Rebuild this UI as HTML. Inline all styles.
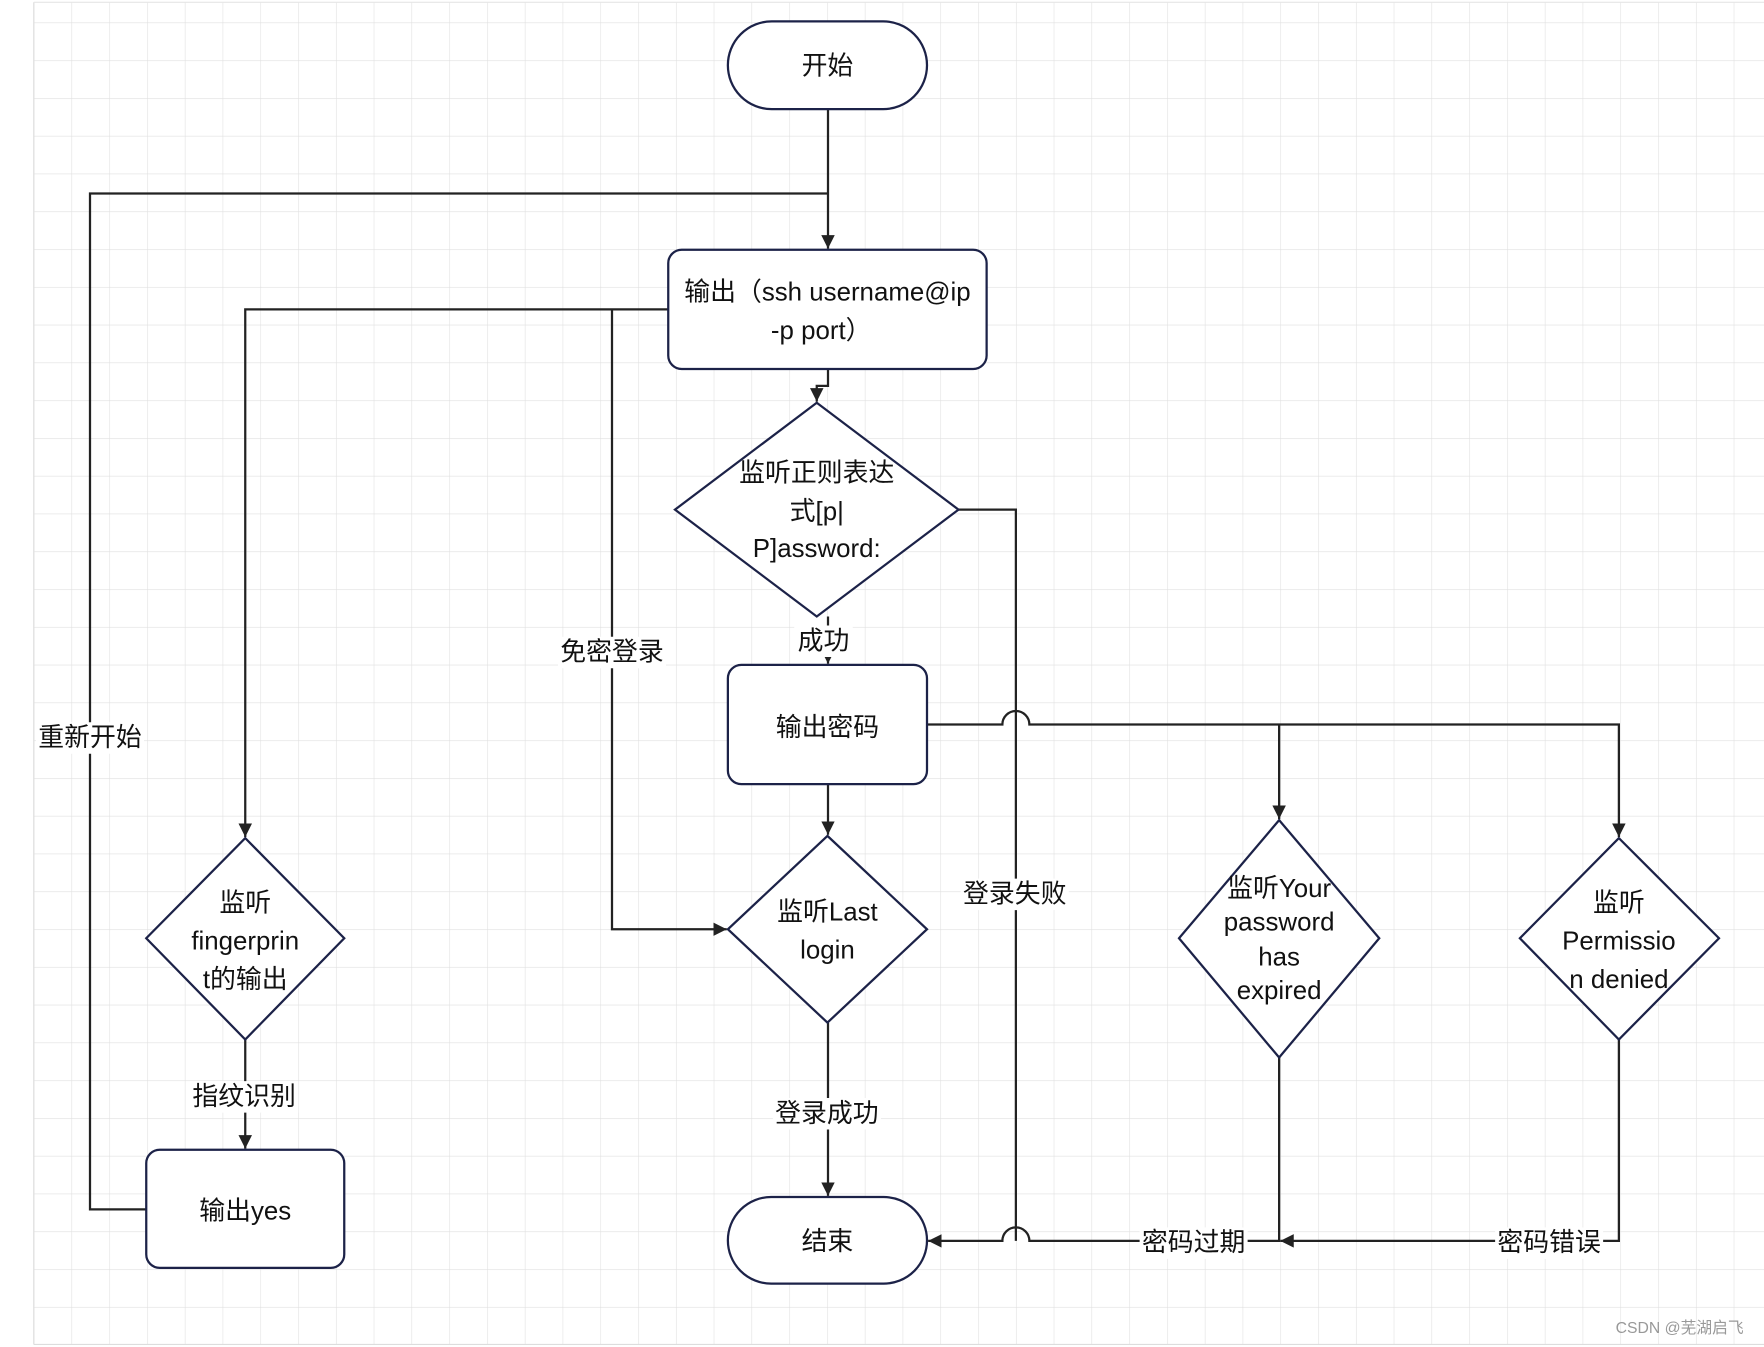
<!DOCTYPE html>
<html><head><meta charset="utf-8"><style>
html,body{margin:0;padding:0;background:#fff;width:1764px;height:1347px;overflow:hidden}
svg{display:block}
text{font-family:"Liberation Sans","Noto Sans CJK SC",sans-serif;font-size:23px;fill:#111;text-anchor:middle;dominant-baseline:central}
.n{fill:#fff;stroke:#1c2248;stroke-width:2}
.c{fill:none;stroke:#222;stroke-width:2}
.lb{fill:#fff}
</style></head><body>
<svg width="1764" height="1347" viewBox="0 0 1568 1197.33" preserveAspectRatio="none">
<defs>
<pattern id="g" x="30" y="20" width="33.58" height="33.58" patternUnits="userSpaceOnUse">
<path d="M0 0H33.58M0 0V33.58" stroke="#e0e0e0" stroke-width="1" fill="none"/>
</pattern>
<marker id="a" markerWidth="13" markerHeight="13" refX="12" refY="6" orient="auto" markerUnits="userSpaceOnUse"><path d="M0,0 L12,6 L0,12 z" fill="#222"/></marker>
</defs>
<rect x="30" y="2" width="1538" height="1193" fill="url(#g)"/>
<line x1="30" y1="2" x2="30" y2="1195" stroke="#ddd"/>
<line x1="30" y1="2" x2="1568" y2="2" stroke="#e6e6e6"/>
<line x1="30" y1="1195" x2="1568" y2="1195" stroke="#ddd"/>

<path class="c" d="M736 97V221" marker-end="url(#a)"/>
<path class="c" d="M130 1075H80V172H736"/>
<path class="c" d="M594 275H218V744" marker-end="url(#a)"/>
<path class="c" d="M544 275V826H646" marker-end="url(#a)"/>
<path class="c" d="M736 328V343H726V357" marker-end="url(#a)"/>
<path class="c" d="M736 548V590" marker-end="url(#a)"/>
<path class="c" d="M852 453H903V1103"/>
<path class="c" d="M824 644H891A12 12 0 0 1 915 644H1439V744" marker-end="url(#a)"/>
<path class="c" d="M1137 644V728" marker-end="url(#a)"/>
<path class="c" d="M736 697V742" marker-end="url(#a)"/>
<path class="c" d="M736 909V1063" marker-end="url(#a)"/>
<path class="c" d="M218 924V1021" marker-end="url(#a)"/>
<path class="c" d="M1137 940V1103H915A12 12 0 0 0 891 1103H825" marker-end="url(#a)"/>
<path class="c" d="M1439 924V1103H1138" marker-end="url(#a)"/>

<rect class="n" x="647" y="19" width="177" height="78" rx="39"/>
<text x="735.5" y="59">开始</text>
<rect class="n" x="594" y="222" width="283" height="106" rx="12"/>
<text x="735.5" y="260">输出（ssh username@ip</text>
<text x="730" y="294">-p port）</text>
<polygon class="n" points="726,358 852,453 726,548 600,453"/>
<text x="726" y="421">监听正则表达</text>
<text x="726" y="455">式[p|</text>
<text x="726" y="488">P]assword:</text>
<rect class="n" x="647" y="591" width="177" height="106" rx="12"/>
<text x="735.5" y="647">输出密码</text>
<polygon class="n" points="735.5,743 824,826 735.5,909 647,826"/>
<text x="735.5" y="811">监听Last</text>
<text x="735.5" y="845">login</text>
<polygon class="n" points="218,745 306,834 218,924 130,834"/>
<text x="218" y="803">监听</text>
<text x="218" y="837">fingerprin</text>
<text x="218" y="871">t的输出</text>
<rect class="n" x="130" y="1022" width="176" height="105" rx="12"/>
<text x="218" y="1077">输出yes</text>
<rect class="n" x="647" y="1064" width="177" height="77" rx="38.5"/>
<text x="735.5" y="1104">结束</text>
<polygon class="n" points="1137,729 1226,834 1137,940 1048,834"/>
<text x="1137" y="790">监听Your</text>
<text x="1137" y="820">password</text>
<text x="1137" y="851">has</text>
<text x="1137" y="881">expired</text>
<polygon class="n" points="1439,745 1528,834 1439,924 1351,834"/>
<text x="1439" y="803">监听</text>
<text x="1439" y="837">Permissio</text>
<text x="1439" y="871">n denied</text>

<rect class="lb" x="32" y="642" width="96" height="28"/><text x="80" y="656">重新开始</text>
<rect class="lb" x="496" y="566" width="96" height="28"/><text x="544" y="580">免密登录</text>
<rect class="lb" x="706" y="556" width="52" height="28"/><text x="732" y="570">成功</text>
<rect class="lb" x="854" y="781" width="96" height="28"/><text x="902" y="795">登录失败</text>
<rect class="lb" x="687" y="976" width="96" height="28"/><text x="735" y="990">登录成功</text>
<rect class="lb" x="169" y="961" width="96" height="28"/><text x="217" y="975">指纹识别</text>
<rect class="lb" x="1013" y="1091" width="96" height="28"/><text x="1061" y="1105">密码过期</text>
<rect class="lb" x="1329" y="1091" width="96" height="28"/><text x="1377" y="1105">密码错误</text>
<text x="1493" y="1181" style="font-size:14px;fill:#999">CSDN @芜湖启飞</text>
</svg>
</body></html>
